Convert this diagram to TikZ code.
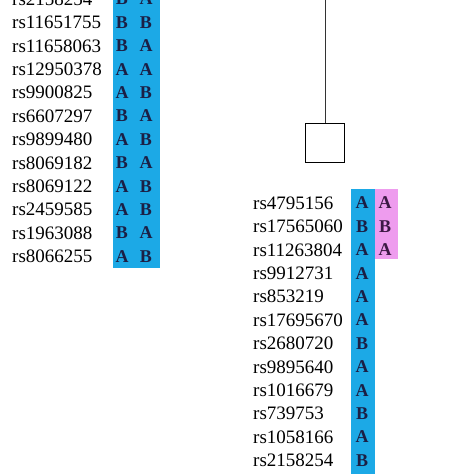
\documentclass[tikz,border=0pt]{standalone}
\usepackage{fontspec}
\setmainfont{Liberation Serif}
\usepackage{xcolor}
\usepackage{tikz}
\usetikzlibrary{positioning}

\definecolor{hapblue}{HTML}{1CA9E6}
\definecolor{happink}{HTML}{EE9CEE}
\definecolor{allele}{HTML}{1B1F45}

\begin{document}
\begin{tikzpicture}[
    x=1pt, y=-1pt,
    snp/.style={anchor=west, inner sep=0pt, font=\fontsize{19}{19}\selectfont},
    geno/.style={inner sep=0pt, text=allele, font=\fontsize{18}{18}\selectfont\bfseries},
    sqbox/.style={draw, line width=1.6pt, minimum size=39pt, inner sep=0pt}
]
\useasboundingbox (0,0) rectangle (474,474);

% haplotype columns
\fill[hapblue] (113,-10) rectangle (160,268);
\fill[hapblue] (351,189) rectangle (375,484);
\fill[happink] (375,189) rectangle (398,259);

% left block
\foreach \name/\ga/\gb [count=\i from 0] in {
    rs2158254/B/A, rs11651755/B/B, rs11658063/B/A, rs12950378/A/A,
    rs9900825/A/B, rs6607297/B/A, rs9899480/A/B, rs8069182/B/A,
    rs8069122/A/B, rs2459585/A/B, rs1963088/B/A, rs8066255/A/B}{
  \node[snp] (l\i) at (12,{-1+23.4*\i}) {\name};
  \node[geno] (la\i) at (122,{-1+23.4*\i}) {\ga};
  \node[geno] (lb\i) at (146,{-1+23.4*\i}) {\gb};
}

% right block
\foreach \name/\ga [count=\j from 0] in {
    rs4795156/A, rs17565060/B, rs11263804/A, rs9912731/A,
    rs853219/A, rs17695670/A, rs2680720/B, rs9895640/A,
    rs1016679/A, rs739753/B, rs1058166/A, rs2158254/B}{
  \node[snp] (r\j) at (253,{203+23.4*\j}) {\name};
  \node[geno] (ra\j) at (362,{203+23.4*\j}) {\ga};
}
\foreach \gb [count=\j from 0] in {A,B,A}{
  \node[geno, text=allele!80!purple] (rb\j) at (385,{203+23.4*\j}) {\gb};
}

% square node and its line
\node[sqbox] (sq) at (325,143) {};
\coordinate (top) at (325,-5);
\draw[line width=0.9pt, black!80] (sq.north) -- (top);
\end{tikzpicture}
\end{document}
